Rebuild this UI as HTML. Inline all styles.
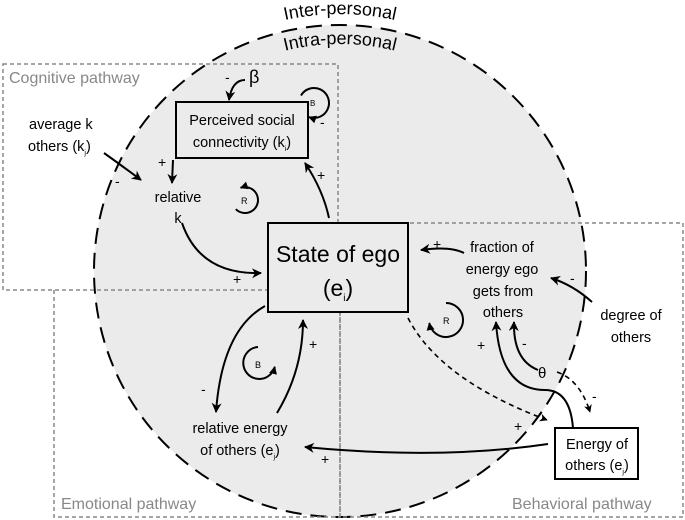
<!DOCTYPE html>
<html><head><meta charset="utf-8"><style>
html,body{margin:0;padding:0;background:#fff;}
svg{display:block;font-family:"Liberation Sans",sans-serif;}
</style></head><body>
<svg width="685" height="520" viewBox="0 0 685 520" xmlns="http://www.w3.org/2000/svg">
<defs>
<marker id="a" viewBox="0 0 10 10" refX="9" refY="5" markerWidth="5" markerHeight="5" orient="auto"><path d="M0,0 L10,5 L0,10 L3,5 z" fill="#000"/></marker>
<marker id="s" viewBox="0 0 10 10" refX="9" refY="5" markerWidth="4" markerHeight="4" orient="auto"><path d="M0,0 L10,5 L0,10 z" fill="#000"/></marker>
<path id="p1" d="M 82,272 A 258,258 0 0 1 598,272"/>
<path id="p2" d="M 112,272 A 228,228 0 0 1 568,272"/>
</defs>
<circle cx="340" cy="271" r="246" fill="#ebebeb" stroke="#000" stroke-width="2" stroke-dasharray="16,9"/>
<text font-size="18"><textPath href="#p1" startOffset="50%" text-anchor="middle">Inter-personal</textPath></text>
<text font-size="18"><textPath href="#p2" startOffset="50%" text-anchor="middle">Intra-personal</textPath></text>
<g fill="none" stroke="#888" stroke-width="1.5" stroke-dasharray="4,3">
<rect x="3" y="64" width="335" height="226"/>
<polyline points="54,290 54,517 340,517 340,290"/>
<rect x="340" y="223" width="343" height="294"/>
</g>
<g fill="#888" font-size="16">
<text x="9" y="83">Cognitive pathway</text>
<text x="61" y="509">Emotional pathway</text>
<text x="512" y="509">Behavioral pathway</text>
</g>
<g fill="#ebebeb" stroke="#000" stroke-width="2">
<rect x="268" y="223" width="140" height="89"/>
<rect x="176" y="102" width="132" height="56"/>
<rect x="555" y="428" width="83" height="51" fill="#fff"/>
</g>
<g font-size="14.5" fill="#000">
<text x="338" y="262" font-size="23" text-anchor="middle">State of ego</text>
<text x="338" y="296" font-size="23" text-anchor="middle">(e<tspan font-size="10" dy="5">i</tspan><tspan dy="-5">)</tspan></text>
<text x="242" y="125" text-anchor="middle">Perceived social</text>
<text x="242" y="147" text-anchor="middle">connectivity (k<tspan font-size="7" dy="4">i</tspan><tspan dy="-4">)</tspan></text>
<text x="29" y="129">average k</text>
<text x="28" y="151">others (k<tspan font-size="7" dy="4">j</tspan><tspan dy="-4">)</tspan></text>
<text x="178" y="202" text-anchor="middle">relative</text>
<text x="178" y="223" text-anchor="middle">k</text>
<text x="240" y="433" text-anchor="middle">relative energy</text>
<text x="240" y="455" text-anchor="middle">of  others (e<tspan font-size="7" dy="4">j</tspan><tspan dy="-4">)</tspan></text>
<text x="502" y="252" text-anchor="middle">fraction of</text>
<text x="502" y="274" text-anchor="middle">energy ego</text>
<text x="503" y="296" text-anchor="middle">gets from</text>
<text x="503" y="317" text-anchor="middle">others</text>
<text x="631" y="320" text-anchor="middle">degree of</text>
<text x="631" y="342" text-anchor="middle">others</text>
<text x="597" y="449" text-anchor="middle">Energy of</text>
<text x="597" y="470" text-anchor="middle">others (e<tspan font-size="7" dy="4">j</tspan><tspan dy="-4">)</tspan></text>
<text x="249" y="83" font-size="18">β</text>
<text x="538" y="378" font-size="15">θ</text>
<text x="310" y="106" font-size="8">B</text>
<text x="241" y="204" font-size="9">R</text>
<text x="255" y="368" font-size="9">B</text>
<text x="443" y="324" font-size="9">R</text>
</g>
<g font-size="14" fill="#000">
<text x="225" y="82">-</text><text x="320" y="127">-</text>
<text x="158" y="167">+</text><text x="115" y="186">-</text>
<text x="317" y="180">+</text><text x="233" y="284">+</text>
<text x="433" y="249">+</text><text x="570" y="283">-</text>
<text x="309" y="349">+</text><text x="201" y="394">-</text>
<text x="321" y="464">+</text><text x="477" y="350">+</text>
<text x="522" y="348">-</text><text x="592" y="401">-</text>
<text x="514" y="431">+</text>
</g>
<g fill="none" stroke="#000" stroke-width="2">
<path d="M245,80 Q232,80 229,100" marker-end="url(#a)"/>
<path d="M301,95.5 A15,15 0 1 1 308.9,117.1" marker-end="url(#s)"/>
<path d="M104,153 Q125,168 141,180" marker-end="url(#a)"/>
<path d="M173,160 L172,183" marker-end="url(#a)"/>
<path d="M182,223 Q200,275 261,273" marker-end="url(#a)"/>
<path d="M329,218 Q323,190 305,163" marker-end="url(#a)"/>
<path d="M235.8,209.2 A13,13 0 1 0 240.6,187.8" marker-end="url(#s)"/>
<path d="M464,253 Q450,246 421,250" marker-end="url(#a)"/>
<path d="M592,302 Q573,285 551,278" marker-end="url(#a)"/>
<path d="M446,303 A17,17 0 1 1 429.3,323" marker-end="url(#s)"/>
<path d="M265,306 Q222,330 216,412" marker-end="url(#a)"/>
<path d="M277,413 Q303,370 303,320" marker-end="url(#a)"/>
<path d="M258,347 A16,16 0 1 0 274.8,366.8" marker-end="url(#s)"/>
<path d="M573,428 Q570,390 545,390 Q500,390 496,322" marker-end="url(#a)"/>
<path d="M538,370 Q513,360 514,322" marker-end="url(#a)"/>
<path d="M548,444 Q440,460 305,447" marker-end="url(#a)"/>
</g>
<g fill="none" stroke="#000" stroke-width="1.6" stroke-dasharray="5,4">
<path d="M408,318 Q440,380 547,420" marker-end="url(#a)"/>
<path d="M557,372 Q580,380 590,412" marker-end="url(#a)"/>
</g>
</svg>
</body></html>
